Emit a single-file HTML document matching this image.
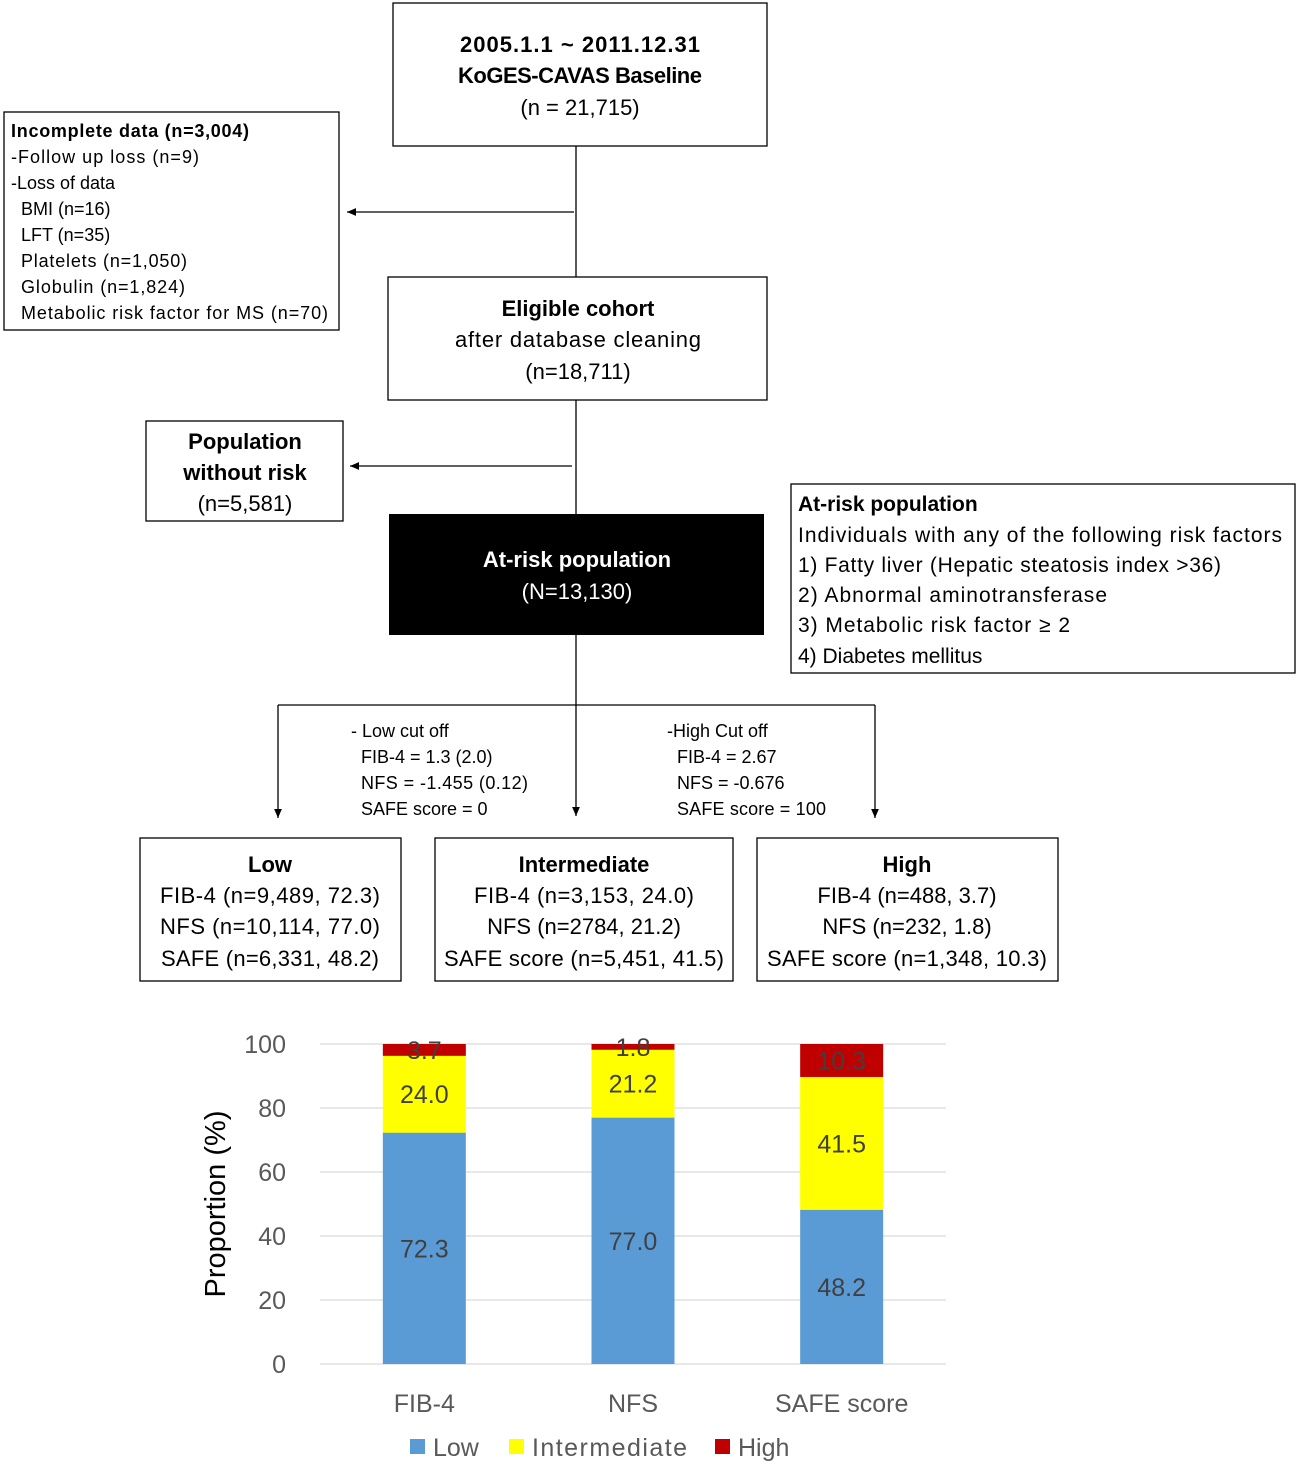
<!DOCTYPE html>
<html><head><meta charset="utf-8"><style>
body{margin:0;background:#fff;}
svg{display:block;font-family:"Liberation Sans",sans-serif;}
</style></head><body>
<svg id="fig" width="1298" height="1464" viewBox="0 0 1298 1464">
<defs><marker id="ah" markerWidth="8" markerHeight="8" refX="7" refY="4" orient="auto"><path d="M0,1 L7,4 L0,7 z" fill="#000"/></marker></defs>
<g stroke="#000" stroke-width="1.3" fill="none">
<line x1="576" y1="146" x2="576" y2="277"/>
<line x1="574" y1="212" x2="347" y2="212" marker-end="url(#ah)"/>
<line x1="576" y1="400" x2="576" y2="514"/>
<line x1="572" y1="466" x2="350" y2="466" marker-end="url(#ah)"/>
<line x1="576" y1="635" x2="576" y2="816" marker-end="url(#ah)"/>
<line x1="278" y1="705" x2="875" y2="705"/>
<line x1="278" y1="705" x2="278" y2="818" marker-end="url(#ah)"/>
<line x1="875" y1="705" x2="875" y2="818" marker-end="url(#ah)"/>
</g>
<g font-size="22" fill="#000" text-anchor="middle">
<g>
<rect x="393" y="3" width="374" height="143" fill="#fff" stroke="#000" stroke-width="1.3"/>
<text x="580" y="52" font-weight="bold" textLength="240">2005.1.1 ~ 2011.12.31</text>
<text x="580" y="83" font-weight="bold" textLength="244">KoGES-CAVAS Baseline</text>
<text x="580" y="115">(n = 21,715)</text>
</g>
<g>
<rect x="388" y="277" width="379" height="123" fill="#fff" stroke="#000" stroke-width="1.3"/>
<text x="578" y="316" font-weight="bold">Eligible cohort</text>
<text x="578" y="347" textLength="246">after database cleaning</text>
<text x="578" y="379">(n=18,711)</text>
</g>
<g>
<rect x="146" y="421" width="197" height="100" fill="#fff" stroke="#000" stroke-width="1.3"/>
<text x="245" y="449" font-weight="bold">Population</text>
<text x="245" y="480" font-weight="bold">without risk</text>
<text x="245" y="511">(n=5,581)</text>
</g>
<g>
<rect x="389" y="514" width="375" height="121" fill="#000"/>
<text x="577" y="567" fill="#fff" font-weight="bold">At-risk population</text>
<text x="577" y="599" fill="#fff">(N=13,130)</text>
</g>
<g>
<rect x="140" y="838" width="261" height="143" fill="#fff" stroke="#000" stroke-width="1.3"/>
<text x="270" y="872" font-weight="bold">Low</text>
<text x="270" y="903" textLength="220">FIB-4 (n=9,489, 72.3)</text>
<text x="270" y="934" textLength="220">NFS (n=10,114, 77.0)</text>
<text x="270" y="966" textLength="218">SAFE (n=6,331, 48.2)</text>
</g>
<g>
<rect x="435" y="838" width="298" height="143" fill="#fff" stroke="#000" stroke-width="1.3"/>
<text x="584" y="872" font-weight="bold">Intermediate</text>
<text x="584" y="903" textLength="220">FIB-4 (n=3,153, 24.0)</text>
<text x="584" y="934">NFS (n=2784, 21.2)</text>
<text x="584" y="966" textLength="280">SAFE score (n=5,451, 41.5)</text>
</g>
<g>
<rect x="757" y="838" width="301" height="143" fill="#fff" stroke="#000" stroke-width="1.3"/>
<text x="907" y="872" font-weight="bold">High</text>
<text x="907" y="903">FIB-4 (n=488, 3.7)</text>
<text x="907" y="934">NFS (n=232, 1.8)</text>
<text x="907" y="966" textLength="280">SAFE score (n=1,348, 10.3)</text>
</g>
</g>
<g font-size="18" fill="#000">
<rect x="4" y="112" width="335" height="218" fill="#fff" stroke="#000" stroke-width="1.3"/>
<text x="11" y="137" font-weight="bold" textLength="238">Incomplete data (n=3,004)</text>
<text x="11" y="163" textLength="188">-Follow up loss  (n=9)</text>
<text x="11" y="189">-Loss of data</text>
<text x="21" y="215">BMI (n=16)</text>
<text x="21" y="241">LFT (n=35)</text>
<text x="21" y="267" textLength="166">Platelets (n=1,050)</text>
<text x="21" y="293" textLength="164">Globulin (n=1,824)</text>
<text x="21" y="319" textLength="307">Metabolic risk factor for MS (n=70)</text>
</g>
<g font-size="21" fill="#000">
<rect x="791" y="484" width="504" height="189" fill="#fff" stroke="#000" stroke-width="1.3"/>
<text x="798" y="511" font-weight="bold">At-risk population</text>
<text x="798" y="542" textLength="484">Individuals with any of the following risk factors</text>
<text x="798" y="572" textLength="423">1) Fatty liver (Hepatic steatosis index &gt;36)</text>
<text x="798" y="602" textLength="309">2) Abnormal aminotransferase</text>
<text x="798" y="632" textLength="272">3) Metabolic risk factor ≥ 2</text>
<text x="798" y="663">4) Diabetes mellitus</text>
</g>
<g font-size="18" fill="#000">
<text x="351" y="737">- Low cut off</text>
<text x="361" y="763">FIB-4 = 1.3 (2.0)</text>
<text x="361" y="789" textLength="167">NFS = -1.455 (0.12)</text>
<text x="361" y="815">SAFE score = 0</text>
<text x="667" y="737">-High Cut off</text>
<text x="677" y="763">FIB-4 = 2.67</text>
<text x="677" y="789">NFS = -0.676</text>
<text x="677" y="815" textLength="149">SAFE score = 100</text>
</g>
<g id="chart"></g>
</svg>
<script>
const categories = ["FIB-4", "NFS", "SAFE score"];
const lowValues = [72.3, 77.0, 48.2];
const intermediateValues = [24.0, 21.2, 41.5];
const highValues = [3.7, 1.8, 10.3];
const yTicks = [0, 20, 40, 60, 80, 100];
const seriesNames = ["Low", "Intermediate", "High"];

const NS = "http://www.w3.org/2000/svg";
const g = document.getElementById("chart");
const x0 = 320, x1 = 946, yBase = 1364, yTop = 1044;
const y = v => yBase - (v / 100) * (yBase - yTop);
const band = (x1 - x0) / categories.length;
const xc = i => x0 + band * (i + 0.5);
const bw = 83;
function mk(tag, attrs, parent) {
  const e = document.createElementNS(NS, tag);
  for (const k in attrs) e.setAttribute(k, attrs[k]);
  (parent || g).appendChild(e);
  return e;
}
yTicks.forEach(t => {
  const l = mk("line", {x1: x0, x2: x1, y1: y(t), y2: y(t), stroke: "#d9d9d9", "stroke-width": 1.3});
  
  
  const tx = mk("text", {x: 286, y: y(t) + 9, "text-anchor": "end", "font-size": 25, fill: "#595959"});
  tx.textContent = t;
  
  
});
const yt = mk("text", {x: 0, y: 0, "font-size": 29, fill: "#000", "text-anchor": "middle", transform: "translate(225,1204) rotate(-90)"});
yt.textContent = "Proportion (%)";


const colors = ["#5B9BD5", "#FFFF00", "#C00000"];
const series = [lowValues, intermediateValues, highValues];
categories.forEach((c, i) => {
  let acc = 0;
  series.forEach((s, k) => {
    const v = s[i];
    const r = mk("rect", {x: xc(i) - bw / 2, y: y(Math.min(100, acc + v)), width: bw, height: y(acc) - y(Math.min(100, acc + v)), fill: colors[k]});
    
    
    const lt = mk("text", {x: xc(i), y: y(acc + v / 2) + 9, "text-anchor": "middle", "font-size": 25, fill: "#404040"});
    lt.textContent = v.toFixed(1);
    
    
    acc += v;
  });
  const ct = mk("text", {x: xc(i), y: 1412, "text-anchor": "middle", "font-size": 25, fill: "#595959"});
  ct.textContent = c;
  
  
});
const legX = [410, 509, 715];
seriesNames.forEach((n, k) => {
  const r = mk("rect", {x: legX[k], y: 1439, width: 15, height: 15, fill: colors[k]});
  
  
  const t = mk("text", {x: legX[k] + 23, y: 1456, "font-size": 25, fill: "#595959"});
  t.textContent = n;
  if (n === "Intermediate") t.setAttribute("textLength", "155");
  
  
});
</script>
</body></html>
